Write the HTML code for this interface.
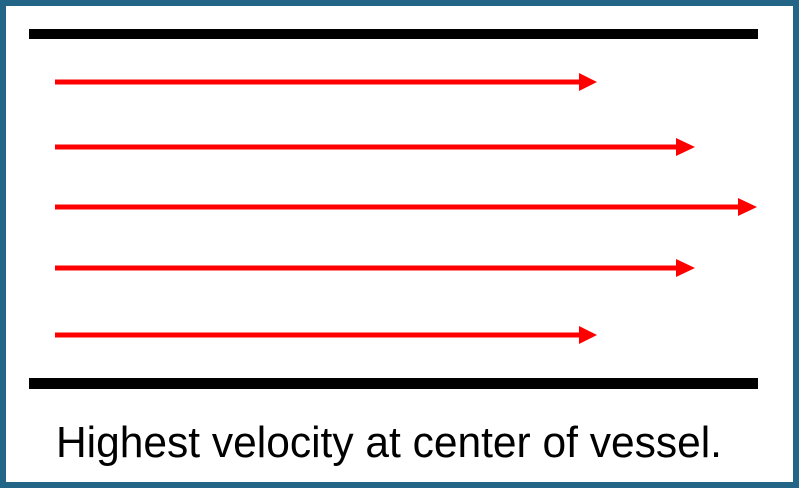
<!DOCTYPE html>
<html><head><style>html,body{margin:0;padding:0;background:#fff;}svg{display:block}</style></head>
<body>
<svg width="800" height="493" viewBox="0 0 800 493" xmlns="http://www.w3.org/2000/svg">
<rect x="0" y="0" width="800" height="493" fill="#fff"/>
<rect x="3" y="3" width="793" height="482" fill="#fff" stroke="#236587" stroke-width="6"/>
<rect x="29" y="29" width="729" height="10" fill="#000"/>
<rect x="29" y="378" width="729" height="11" fill="#000"/>
<g fill="#ff0000">
<rect x="55" y="79.5" width="526" height="5"/><polygon points="579,73 597,82 579,91"/>
<rect x="55" y="144.5" width="623" height="5"/><polygon points="676,138 695,147 676,156"/>
<rect x="55" y="204.5" width="685" height="5"/><polygon points="738,198 757,207 738,216"/>
<rect x="55" y="265.5" width="623" height="5"/><polygon points="676,259 695,268 676,277"/>
<rect x="55" y="332.5" width="526" height="5"/><polygon points="579,326 597,335 579,344"/>
</g>
<text x="56" y="457" font-family="Liberation Sans, sans-serif" font-size="44" fill="#000" textLength="666" lengthAdjust="spacingAndGlyphs">Highest velocity at center of vessel.</text>
</svg>
</body></html>
